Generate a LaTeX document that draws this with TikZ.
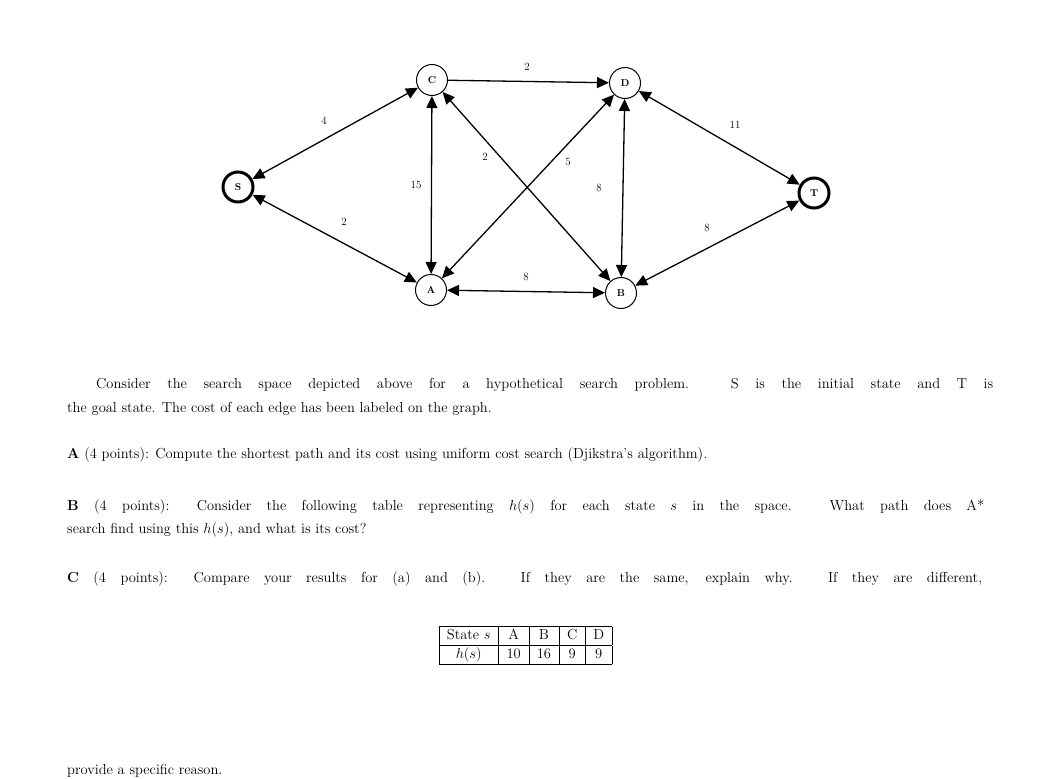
\RequirePackage{fix-cm}
\documentclass[tikz,border=0pt]{standalone}
\usepackage{fontspec}
\usetikzlibrary{arrows.meta}
\begin{document}
\begin{tikzpicture}[x=1pt,y=-1pt,
  st/.style={circle,draw,line width=1pt,minimum size=31pt,inner sep=0pt,font=\fontsize{10}{12}\selectfont\bfseries},
  term/.style={st,line width=3pt,minimum size=30pt},
  ed/.style={line width=1.3pt,{Triangle[length=12pt,width=11pt]}-{Triangle[length=12pt,width=11pt]}},
  ed1/.style={line width=1.3pt,-{Triangle[length=12pt,width=11pt]}},
  lab/.style={font=\fontsize{11}{13}\selectfont},
  tx/.style={anchor=base west,inner sep=0pt,font=\fontsize{14.5}{17}\selectfont}]
\useasboundingbox (0,0) rectangle (1058,779);
\node[term] (S) at (238,187) {S};
\node[st] (C) at (432,80) {C};
\node[st] (D) at (625,83) {D};
\node[term] (T) at (814,193) {T};
\node[st] (A) at (431,290) {A};
\node[st] (B) at (621,293) {B};
\draw[ed1] (C) -- (D);
\draw[ed] (S) -- (C);
\draw[ed] (S) -- (A);
\draw[ed] (C) -- (A);
\draw[ed] (C) -- (B);
\draw[ed] (D) -- (A);
\draw[ed] (D) -- (B);
\draw[ed] (D) -- (T);
\draw[ed] (B) -- (T);
\draw[ed] (A) -- (B);
\node[lab] (l1) at (324,121) {4};
\node[lab] (l2) at (527,67) {2};
\node[lab] (l3) at (735,125) {11};
\node[lab] (l4) at (485,157) {2};
\node[lab] (l5) at (568,162) {5};
\node[lab] (l6) at (416,185) {15};
\node[lab] (l7) at (599,188) {8};
\node[lab] (l8) at (344,222) {2};
\node[lab] (l9) at (707,228) {8};
\node[lab] (l10) at (526,277) {8};
\node[tx] (p1) at (96,388) {\makebox[897pt][s]{Consider the search space depicted above for a hypothetical search problem. S is the initial state and T is}};
\node[tx] (p2) at (67,412) {the goal state. The cost of each edge has been labeled on the graph.};
\node[tx] (p3) at (67,458) {\textbf{A} (4 points): Compute the shortest path and its cost using uniform cost search (Djikstra's algorithm).};
\node[tx] (p4) at (67,510) {\makebox[917pt][s]{\textbf{B} (4 points): Consider the following table representing $h(s)$ for each state $s$ in the space. What path does A*}};
\node[tx] (p5) at (67,533) {search find using this $h(s)$, and what is its cost?};
\node[tx] (p6) at (67,582) {\makebox[915pt][s]{\textbf{C} (4 points): Compare your results for (a) and (b). If they are the same, explain why. If they are different,}};
\node[tx] (p7) at (67,774) {provide a specific reason.};
\node[inner sep=0pt,font=\fontsize{14.5}{17}\selectfont] (tab) at (525.5,645.5) {\renewcommand{\arraystretch}{1.1}\setlength{\tabcolsep}{8pt}\begin{tabular}{|c|c|c|c|c|}\hline State $s$ & A & B & C & D\\\hline $h(s)$ & 10 & 16 & 9 & 9\\\hline\end{tabular}};
\end{tikzpicture}
\end{document}
